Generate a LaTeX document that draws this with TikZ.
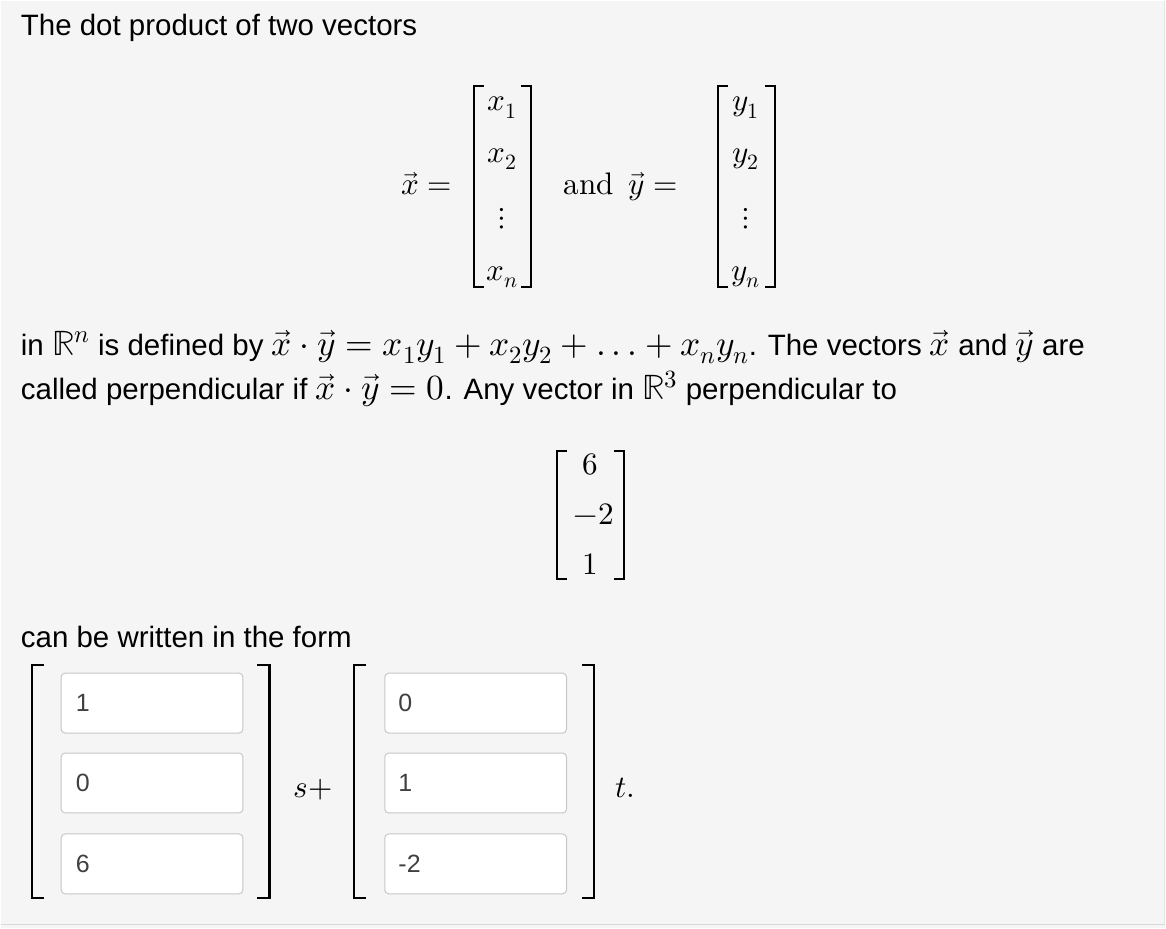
\documentclass[tikz,border=0pt]{standalone}
\usepackage{amsmath,amssymb}
\usepackage{fontspec}
\setmainfont{Liberation Sans}
\usepackage{unicode-math}
\setmathfont[Scale=1.2]{Latin Modern Math}
\begin{document}
\begin{tikzpicture}[x=1pt,y=-1pt,
  txt/.style={anchor=base west,inner sep=0pt,font=\fontsize{29.5}{34}\selectfont},
  ent/.style={anchor=base,inner sep=0pt,font=\fontsize{26}{30}\selectfont},
  brk/.style={line width=2.2pt,line cap=rect},
  box/.style={draw=black!22,fill=white,rounded corners=4pt,line width=1pt,minimum width=182pt,minimum height=60pt,anchor=north west},
  inp/.style={anchor=base west,inner sep=0pt,font=\fontsize{25}{29}\selectfont,text=black!75}]
\fill[black!4] (0,0) rectangle (1166,929);
\draw[black!15,line width=1.5pt] (0,925) -- (1166,925);
\draw[black!10,line width=1pt] (1165,0) -- (1165,925);
\useasboundingbox (0,0) rectangle (1166,929);
\node[txt] (title) at (20,35) {The dot product of two vectors};
% vector x
\node[ent,anchor=base east] (xeq) at (452,194) {$\vec{x}=$};
\draw[brk] (483,86) -- (474,86) -- (474,287) -- (483,287);
\draw[brk] (522,86) -- (531,86) -- (531,287) -- (522,287);
\node[ent] (x1) at (502,110) {$x_1$};
\node[ent] (x2) at (502,162) {$x_2$};
\node[ent] (xd) at (502,226) {$\vdots$};
\node[ent] (xn) at (502,280) {$x_n$};
\node[ent,anchor=base west] (and) at (563,194) {$\symup{and}\ \ \vec{y}=$};
\draw[brk] (727,86) -- (718,86) -- (718,287) -- (727,287);
\draw[brk] (766,86) -- (775,86) -- (775,287) -- (766,287);
\node[ent] (y1) at (746,110) {$y_1$};
\node[ent] (y2) at (746,162) {$y_2$};
\node[ent] (yd) at (746,226) {$\vdots$};
\node[ent] (yn) at (746,280) {$y_n$};
% text lines
\node[txt] (l1) at (20,355) {in $\mathbb{R}^n$ is defined by $\vec{x}\cdot\vec{y}=x_1y_1+x_2y_2+\mathinner{.\,.\,.}+x_ny_n$. The vectors $\vec{x}$ and $\vec{y}$ are};
\node[txt] (l2) at (20,400) {called perpendicular if $\vec{x}\cdot\vec{y}=0$. Any vector in $\mathbb{R}^3$ perpendicular to};
% vector 6,-2,1
\draw[brk] (566,451) -- (557,451) -- (557,579) -- (566,579);
\draw[brk] (615,451) -- (624,451) -- (624,579) -- (615,579);
\node[ent] (a1) at (590,475) {$6$};
\node[ent,anchor=base east] (a2) at (614,525) {$-2$};
\node[ent] (a3) at (590,575) {$1$};
\node[txt] (form) at (20,648) {can be written in the form};
% first answer vector
\draw[brk] (42,665) -- (31,665) -- (31,899) -- (42,899);
\draw[brk] (258,665) -- (269,665) -- (269,899) -- (258,899);
\node[box] (b1) at (60,673) {};
\node[box] (b2) at (60,753) {};
\node[box] (b3) at (60,834) {};
\node[inp] at (75,712) {1};
\node[inp] at (75,792) {0};
\node[inp] at (75,873) {6};
\node[ent] (s) at (313,798) {$s+$};
% second answer vector
\draw[brk] (365,665) -- (354,665) -- (354,899) -- (365,899);
\draw[brk] (583,665) -- (594,665) -- (594,899) -- (583,899);
\node[box] (c1) at (384,673) {};
\node[box] (c2) at (384,753) {};
\node[box] (c3) at (384,834) {};
\node[inp] at (398,712) {0};
\node[inp] at (398,792) {1};
\node[inp] at (398,873) {-2};
\node[ent,anchor=base west] (t) at (615,798) {$t.$};
\end{tikzpicture}
\end{document}
